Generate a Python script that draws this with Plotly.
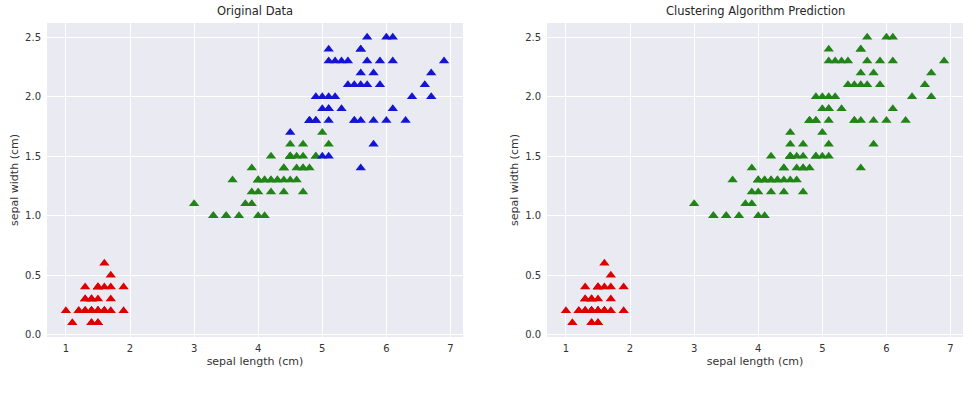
import plotly.graph_objects as go
from plotly.subplots import make_subplots

petal_length = [
    1.4, 1.4, 1.3, 1.5, 1.4, 1.7, 1.4, 1.5, 1.4, 1.5, 1.5, 1.6, 1.4, 1.1, 1.2, 1.5, 1.3, 1.4, 1.7, 1.5,
    1.7, 1.5, 1.0, 1.7, 1.9, 1.6, 1.6, 1.5, 1.4, 1.6, 1.6, 1.5, 1.5, 1.4, 1.5, 1.2, 1.3, 1.4, 1.3, 1.5,
    1.3, 1.3, 1.3, 1.6, 1.9, 1.4, 1.6, 1.4, 1.5, 1.4,
    4.7, 4.5, 4.9, 4.0, 4.6, 4.5, 4.7, 3.3, 4.6, 3.9, 3.5, 4.2, 4.0, 4.7, 3.6, 4.4, 4.5, 4.1, 4.5, 3.9,
    4.8, 4.0, 4.9, 4.7, 4.3, 4.4, 4.8, 5.0, 4.5, 3.5, 3.8, 3.7, 3.9, 5.1, 4.5, 4.5, 4.7, 4.4, 4.1, 4.0,
    4.4, 4.6, 4.0, 3.3, 4.2, 4.2, 4.2, 4.3, 3.0, 4.1,
    6.0, 5.1, 5.9, 5.6, 5.8, 6.6, 4.5, 6.3, 5.8, 6.1, 5.1, 5.3, 5.5, 5.0, 5.1, 5.3, 5.5, 6.7, 6.9, 5.0,
    5.7, 4.9, 6.7, 4.9, 5.7, 6.0, 4.8, 4.9, 5.6, 5.8, 6.1, 6.4, 5.6, 5.1, 5.6, 6.1, 5.6, 5.5, 4.8, 5.4,
    5.6, 5.1, 5.1, 5.9, 5.7, 5.2, 5.0, 5.2, 5.4, 5.1,
]
petal_width = [
    0.2, 0.2, 0.2, 0.2, 0.2, 0.4, 0.3, 0.2, 0.2, 0.1, 0.2, 0.2, 0.1, 0.1, 0.2, 0.4, 0.4, 0.3, 0.3, 0.3,
    0.2, 0.4, 0.2, 0.5, 0.2, 0.2, 0.4, 0.2, 0.2, 0.2, 0.2, 0.4, 0.1, 0.2, 0.2, 0.2, 0.2, 0.1, 0.2, 0.2,
    0.3, 0.3, 0.2, 0.6, 0.4, 0.3, 0.2, 0.2, 0.2, 0.2,
    1.4, 1.5, 1.5, 1.3, 1.5, 1.3, 1.6, 1.0, 1.3, 1.4, 1.0, 1.5, 1.0, 1.4, 1.3, 1.4, 1.5, 1.0, 1.5, 1.1,
    1.8, 1.3, 1.5, 1.2, 1.3, 1.4, 1.4, 1.7, 1.5, 1.0, 1.1, 1.0, 1.2, 1.6, 1.5, 1.6, 1.5, 1.3, 1.3, 1.3,
    1.2, 1.4, 1.2, 1.0, 1.3, 1.2, 1.3, 1.3, 1.1, 1.3,
    2.5, 1.9, 2.1, 1.8, 2.2, 2.1, 1.7, 1.8, 1.8, 2.5, 2.0, 1.9, 2.1, 2.0, 2.4, 2.3, 1.8, 2.2, 2.3, 1.5,
    2.3, 2.0, 2.0, 1.8, 2.1, 1.8, 1.8, 1.8, 2.1, 1.6, 1.9, 2.0, 2.2, 1.5, 1.4, 2.3, 2.4, 1.8, 1.8, 2.1,
    2.4, 2.3, 1.9, 2.3, 2.5, 2.3, 1.9, 2.0, 2.3, 1.8,
]
true_labels = [0] * 50 + [1] * 50 + [2] * 50
predicted_labels = [0] * 50 + [1] * 100

panel_titles = ["Original Data", "Clustering Algorithm Prediction"]
x_title = "sepal length (cm)"
y_title = "sepal width (cm)"
x_ticks = [1, 2, 3, 4, 5, 6, 7]
y_ticks = [0.0, 0.5, 1.0, 1.5, 2.0, 2.5]

palette = ["#DD0000", "#228418", "#1414D4"]

fig = make_subplots(rows=1, cols=2, horizontal_spacing=0.0918)

for col, labels in [(1, true_labels), (2, predicted_labels)]:
    fig.add_trace(
        go.Scatter(
            x=petal_length,
            y=petal_width,
            mode="markers",
            marker=dict(symbol="triangle-up", size=9,
                        color=[palette[l] for l in labels], line=dict(width=0)),
            showlegend=False,
        ),
        row=1, col=col,
    )

font_family = "DejaVu Sans, sans-serif"
text_color = "#333333"

for col in (1, 2):
    fig.update_xaxes(range=[0.705, 7.195], tickvals=x_ticks, ticktext=[str(t) for t in x_ticks],
                     title=dict(text=x_title, standoff=4,
                                font=dict(family=font_family, size=11, color=text_color)),
                     tickfont=dict(family=font_family, size=10, color=text_color),
                     showgrid=True, gridcolor="white", gridwidth=1, zeroline=False,
                     showline=False, ticks="", ticklabelstandoff=4, automargin=False,
                     row=1, col=col)
    fig.update_yaxes(range=[-0.02, 2.62], tickvals=y_ticks, ticktext=[f"{t:.1f}" for t in y_ticks],
                     title=dict(text=y_title, standoff=4,
                                font=dict(family=font_family, size=11, color=text_color)),
                     tickfont=dict(family=font_family, size=10, color=text_color),
                     showgrid=True, gridcolor="white", gridwidth=1, zeroline=False,
                     showline=False, ticks="", ticklabelstandoff=5, automargin=False,
                     row=1, col=col)

annotations = []
for i, t in enumerate(panel_titles):
    xref = "x domain" if i == 0 else "x2 domain"
    annotations.append(dict(text=t, x=0.5, y=1.0, xref=xref, yref="paper",
                            xanchor="center", yanchor="bottom", yshift=3, showarrow=False,
                            font=dict(family=font_family, size=11.5, color="#262626")))

fig.update_layout(
    template="none",
    width=978, height=396,
    margin=dict(l=47, r=15, t=23, b=59, autoexpand=False),
    plot_bgcolor="#EAEAF2",
    paper_bgcolor="white",
    annotations=annotations,
    font=dict(family=font_family, color=text_color),
)

fig.write_html("out.html", config={"displayModeBar": False},
               post_script="document.body.style.margin='0';")
